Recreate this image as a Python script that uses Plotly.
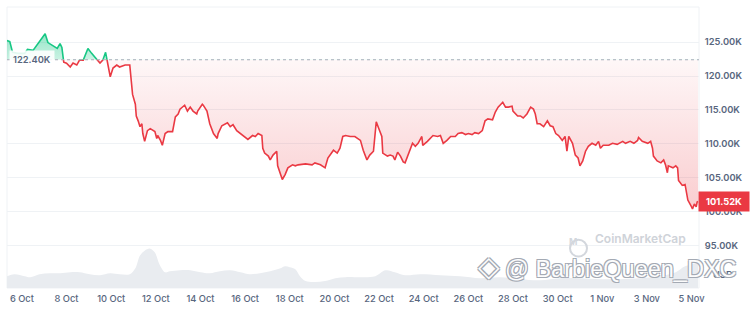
import plotly.graph_objects as go
import pandas as pd

# ---------------- data ----------------
t0 = pd.Timestamp("2025-10-06 00:00")

price_hours = [
    -16, -13, -10, -4, 3, 6, 12, 17, 23, 25, 28, 33, 38, 41, 43, 45, 48, 52, 55, 59,
    62, 66, 71, 75, 81, 84, 87, 90, 93, 95, 98, 102, 105, 111, 114, 116,
    118, 119, 122, 123, 125, 127, 129, 130, 132, 135, 138, 141, 143, 145, 146, 149, 151, 152,
    154, 157, 162, 165, 168, 170, 173, 175, 178, 181, 184, 188, 189, 194, 195, 199, 202, 206,
    210, 211, 215, 221, 224, 227, 231, 235, 238, 243,
    248, 251, 254, 258, 259, 261, 265, 267, 270, 274, 275, 278, 280, 283, 286, 291, 294, 297,
    305, 312, 315, 321, 326, 329, 335, 339, 342, 345, 348, 353, 358, 364, 367, 371, 374, 378,
    381, 383, 385, 387, 388, 393, 396, 399, 401, 404, 407, 410, 412, 415, 420, 423, 426, 430,
    431, 436, 439, 442, 447, 450, 453, 457, 461, 466, 469, 473, 477, 480, 484, 487, 491, 495,
    498, 501, 506, 509, 512,
    517, 520, 523, 527, 528, 533, 536, 539, 543, 547, 550, 552, 554, 557, 561, 565, 568, 571,
    574, 577, 581, 584, 586, 588, 592, 595, 598, 600, 603, 606, 609, 613, 617, 620, 622, 625,
    631, 635, 640, 646,
    649, 654, 658, 662, 663, 667, 673, 676, 678, 679, 683, 687, 690, 692, 694, 695, 700, 703,
    705, 706, 710, 713, 715, 716, 720, 721, 723, 725, 726, 727,
]
price_k = [
    125.22, 125.07, 123.49, 123.34, 123.34, 123.92, 123.78, 124.79, 125.94, 126.23, 124.93, 124.50,
    124.06, 124.79, 124.21, 122.05, 121.90, 121.33, 121.90, 121.62,
    122.34, 122.34, 124.06, 123.34, 122.34, 121.90, 122.34, 123.49, 121.33, 119.89, 121.18, 121.62,
    121.33, 121.62, 121.62, 121.62,
    118.73, 117.29, 115.85, 114.12, 113.40, 112.54, 112.97, 111.53, 110.38, 111.96, 112.25, 111.96,
    111.82, 110.81, 111.24, 110.52, 109.80, 110.38,
    111.53, 111.82, 111.82, 113.98, 114.41, 115.13, 115.56, 115.71, 114.84, 115.42, 114.84, 114.41,
    114.84, 115.85, 115.71, 114.84, 112.97, 111.53,
    110.81, 111.53, 112.68, 113.11, 112.54, 112.83, 111.96, 111.53, 111.10, 110.66,
    111.24, 111.10, 111.53, 111.24, 109.37, 108.65, 108.21, 107.64, 108.36, 108.93, 106.77, 105.33,
    104.76, 105.48, 106.48, 106.92, 106.77, 106.92,
    107.06, 106.92, 107.21, 106.92, 106.48, 107.93, 109.08, 108.65, 109.37, 111.10, 111.24, 111.10,
    111.10, 110.52, 109.08, 107.64, 108.36, 108.93,
    113.26, 112.54, 111.82, 111.10, 108.65, 108.21, 108.36, 108.21, 107.64, 108.79, 108.21, 107.35,
    107.21, 108.21, 110.09, 109.65, 110.09, 111.10,
    109.80, 110.38, 110.81, 111.24, 111.10, 111.24, 110.09, 110.52, 111.10, 111.10, 111.53, 111.67,
    111.38, 111.53, 111.38, 111.67, 111.53, 111.96,
    113.40, 113.69, 113.55, 114.70, 115.42,
    116.14, 115.42, 115.42, 115.56, 114.84, 114.12, 114.12, 113.83, 114.41, 115.42, 115.13, 114.41,
    112.97, 112.97, 112.54, 113.40, 112.68, 112.54,
    111.53, 111.24, 110.52, 111.10, 108.93, 111.10, 110.09, 108.36, 107.93, 106.77, 107.49, 108.93,
    109.65, 110.09, 109.80, 110.38, 109.37, 109.80,
    109.80, 110.09, 109.94, 110.38,
    110.09, 110.38, 110.09, 110.52, 110.95, 110.38, 110.09, 110.38, 109.37, 108.21, 107.49, 107.21,
    107.64, 106.92, 105.76, 106.77, 106.48, 106.77,
    106.48, 104.61, 103.89, 104.03, 102.59, 101.73, 100.72, 100.43, 101.15, 100.72, 101.44, 101.52,
]

vol_hours = [
    -16, -8, 3, 9, 19, 30, 41, 52, 62, 73, 84, 95, 105, 116, 122, 127, 132, 138, 143, 148,
    154, 159, 170, 181, 192, 202, 213, 224, 235, 245, 256, 267, 278, 283, 288, 294, 299, 305,
    315, 326, 337, 348, 358, 369, 380, 391, 401, 412, 428, 450, 471, 493, 514, 536, 557, 579,
    600, 622, 643, 665, 686, 703, 713, 727,
]
vol_b = [
    4.2, 4.9, 4.2, 3.85, 4.9, 5.25, 5.25, 5.6, 5.6, 4.9, 4.55, 5.25, 4.9, 4.9, 7.0, 11.55, 13.3,
    14.0, 12.6, 8.4, 5.6, 5.95, 6.3, 6.3, 5.6, 5.25, 5.95, 6.3, 5.6, 4.9, 5.25, 5.95, 7.0, 7.7,
    7.35, 6.65, 4.2, 2.45, 2.1, 2.45, 3.5, 3.85, 3.85, 3.85, 4.2, 6.3, 5.6, 4.55, 4.9, 4.55, 4.2,
    3.5, 3.85, 3.15, 2.8, 3.5, 3.5, 3.15, 3.15, 3.5, 4.2, 5.6, 7.7, 9.1,
]

baseline_k = 122.40
last_k = 101.52
y_ticks = [95, 100, 105, 110, 115, 120, 125]
y_tick_labels = ["95.00K", "100.00K", "105.00K", "110.00K", "115.00K", "120.00K", "125.00K"]
x_tick_dates = ["2025-10-06", "2025-10-08", "2025-10-10", "2025-10-12", "2025-10-14",
                "2025-10-16", "2025-10-18", "2025-10-20", "2025-10-22", "2025-10-24",
                "2025-10-26", "2025-10-28", "2025-10-30", "2025-11-01", "2025-11-03",
                "2025-11-05"]
x_tick_labels = ["6 Oct", "8 Oct", "10 Oct", "12 Oct", "14 Oct", "16 Oct", "18 Oct", "20 Oct",
                 "22 Oct", "24 Oct", "26 Oct", "28 Oct", "30 Oct", "1 Nov", "3 Nov", "5 Nov"]

# ---------------- build ----------------
times = [t0 + pd.Timedelta(hours=h) for h in price_hours]
vtimes = [t0 + pd.Timedelta(hours=h) for h in vol_hours]
base_line = [baseline_k] * len(times)

Y_MIN, Y_MAX = 88.78, 130.17
split = (baseline_k - Y_MIN) / (Y_MAX - Y_MIN)

GREEN = "#16c784"
RED = "#ea3943"
AXIS_TXT = "#58667e"
FONT = "Inter, sans-serif"
FS = 9.3

fig = go.Figure()

# volume (background)
fig.add_trace(go.Scatter(x=vtimes, y=vol_b, yaxis="y4", mode="lines",
                         line=dict(width=0, shape="spline"), fill="tozeroy",
                         fillcolor="#e9ecf0", hoverinfo="skip", showlegend=False))

# green part (above baseline)
fig.add_trace(go.Scatter(x=times, y=base_line, yaxis="y2", mode="lines",
                         line=dict(width=0), hoverinfo="skip", showlegend=False))
fig.add_trace(go.Scatter(x=times, y=price_k, yaxis="y2", mode="lines",
                         line=dict(color=GREEN, width=1.6), fill="tonexty",
                         fillgradient=dict(type="vertical", start=baseline_k, stop=126.3,
                                           colorscale=[[0, "rgba(22,199,132,0.22)"],
                                                       [1, "rgba(22,199,132,0.45)"]]),
                         showlegend=False))

# red part (below baseline)
fig.add_trace(go.Scatter(x=times, y=base_line, yaxis="y3", mode="lines",
                         line=dict(width=0), hoverinfo="skip", showlegend=False))
fig.add_trace(go.Scatter(x=times, y=price_k, yaxis="y3", mode="lines",
                         line=dict(color=RED, width=1.6), fill="tonexty",
                         fillgradient=dict(type="vertical", start=100, stop=baseline_k,
                                           colorscale=[[0, "rgba(234,57,67,0.26)"],
                                                       [1, "rgba(234,57,67,0.04)"]]),
                         showlegend=False))

x_range = [t0 + pd.Timedelta(hours=-16), t0 + pd.Timedelta(hours=728)]

fig.update_layout(
    width=750, height=311,
    margin=dict(l=7, r=51, t=7, b=18),
    paper_bgcolor="white", plot_bgcolor="rgba(0,0,0,0)",
    font=dict(family=FONT, color=AXIS_TXT, size=FS),
    xaxis=dict(type="date", range=x_range, tickvals=x_tick_dates, ticktext=x_tick_labels,
               showgrid=False, zeroline=False, ticks="outside", ticklen=2,
               tickcolor="rgba(0,0,0,0)", showline=False,
               tickfont=dict(size=FS, color=AXIS_TXT, family=FONT, weight=500), anchor="y"),
    yaxis=dict(side="right", range=[Y_MIN, Y_MAX], tickvals=y_ticks, ticktext=y_tick_labels,
               gridcolor="#eff2f5", gridwidth=1, zeroline=False, showline=False,
               ticks="outside", ticklen=3, tickcolor="rgba(0,0,0,0)",
               tickfont=dict(size=FS, color=AXIS_TXT, family=FONT, weight=600)),
    yaxis2=dict(domain=[split, 1], range=[baseline_k, Y_MAX], visible=False, anchor="x"),
    yaxis3=dict(domain=[0, split], range=[Y_MIN, baseline_k], visible=False, anchor="x"),
    yaxis4=dict(overlaying="y", range=[0, 100], visible=False),
    showlegend=False,
)

# plot frame and baseline
fig.add_shape(type="rect", xref="paper", yref="paper", x0=0, x1=1, y0=0, y1=1,
              line=dict(color="#eff2f5", width=1), layer="below")
fig.add_shape(type="line", xref="paper", yref="y", x0=0, x1=1, y0=baseline_k, y1=baseline_k,
              line=dict(color="#a6adb9", width=1, dash="dot"), layer="above")

# baseline label
fig.add_annotation(xref="paper", yref="y", x=0.003, y=baseline_k, xanchor="left",
                   text="122.40K", showarrow=False,
                   font=dict(size=FS, color=AXIS_TXT, family=FONT, weight=600),
                   bgcolor="rgba(255,255,255,0.88)", borderpad=3)
# last price label
fig.add_annotation(xref="paper", yref="y", x=1, y=last_k, xanchor="left",
                   text="101.52K", showarrow=False, width=42, height=11,
                   font=dict(size=FS, color="white", family=FONT, weight=700),
                   bgcolor=RED, borderpad=4, xshift=-1)

# CoinMarketCap watermark
px = lambda v: (v - 7) / 692
py = lambda v: (293 - v) / 286
fig.add_shape(type="circle", xref="paper", yref="paper", x0=px(570), x1=px(587),
              y0=py(261), y1=py(244), line=dict(color="#d3d7dd", width=2))
fig.add_annotation(xref="paper", yref="paper", x=px(578.5), y=py(253), text="<b>M</b>",
                   showarrow=False, font=dict(size=9, color="#d3d7dd", family=FONT))
fig.add_annotation(xref="paper", yref="paper", x=px(593), y=py(252.5), xanchor="left",
                   text="CoinMarketCap", showarrow=False,
                   font=dict(size=12, color="#cfd3d9", family=FONT, weight=600))

# USD label
fig.add_annotation(xref="paper", yref="paper", x=px(711), y=py(287), xanchor="left",
                   text="USD", showarrow=False,
                   font=dict(size=FS, color=AXIS_TXT, family=FONT, weight=600))

# author watermark
outline = "-1px -1px 0 #a3a9b3, 1px -1px 0 #a3a9b3, -1px 1px 0 #a3a9b3, 1px 1px 0 #a3a9b3"
fig.add_annotation(xref="paper", yref="paper", x=px(476), y=py(290), xanchor="left",
                   text="◈", showarrow=False,
                   font=dict(size=28, color="rgba(255,255,255,0.97)", family="DejaVu Sans",
                             shadow=outline))
fig.add_annotation(xref="paper", yref="paper", x=px(503), y=py(289), xanchor="left",
                   text="@ BarbieQueen_DXC", showarrow=False,
                   font=dict(size=23.5, color="rgba(255,255,255,0.97)",
                             family="Liberation Sans", shadow=outline))

fig.write_html("out.html")
